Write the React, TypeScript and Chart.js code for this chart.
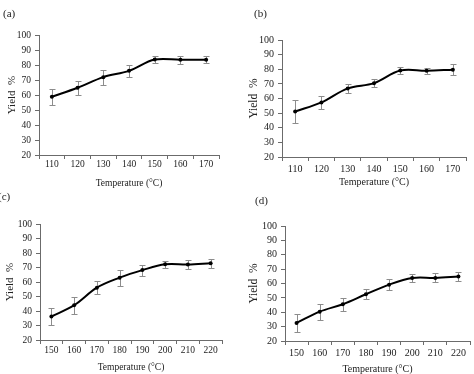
import React, { useEffect, useRef } from "react";
import { Chart, registerables } from "chart.js";

Chart.register(...registerables);

// ---- Data ----
const tempsAB = ["110", "120", "130", "140", "150", "160", "170"];
const tempsCD = ["150", "160", "170", "180", "190", "200", "210", "220"];

const yieldA = [58.8, 64.8, 71.9, 76.1, 83.6, 83.5, 83.5];
const errA = [5.3, 4.8, 5.0, 4.2, 2.1, 2.8, 2.2];

const yieldB = [51.1, 57.3, 66.9, 70.5, 79.1, 79.0, 79.7];
const errB = [7.7, 4.7, 2.9, 2.9, 2.3, 2.1, 3.6];

const yieldC = [36.2, 44.0, 56.1, 63.0, 68.2, 72.2, 72.1, 73.0];
const errC = [6.0, 6.0, 4.5, 5.5, 3.8, 2.5, 3.3, 3.0];

const yieldD = [32.6, 40.4, 45.6, 52.5, 59.2, 63.8, 63.9, 64.9];
const errD = [6.0, 5.6, 4.5, 3.5, 3.7, 2.5, 3.1, 2.9];

const yMin = 20;
const yMax = 100;
const yStep = 10;

const xTitle = "Temperature (\u00B0C)";
const yTitle = "Yield  %";
const panelLabels = ["(a)", "(b)", "(c)", "(d)"];

const FONT = "'Liberation Serif', 'Times New Roman', serif";

const errorBars = {
  id: "errorBars",
  beforeDatasetsDraw(chart: any) {
    const { ctx } = chart;
    const ys = chart.scales.y;
    chart.data.datasets.forEach((ds: any, i: number) => {
      const meta = chart.getDatasetMeta(i);
      const errs: number[] = ds.errors || [];
      meta.data.forEach((pt: any, j: number) => {
        const v = ds.data[j];
        const e = errs[j];
        if (e == null) return;
        const top = Math.round(ys.getPixelForValue(v + e)) + 0.5;
        const bot = Math.round(ys.getPixelForValue(v - e)) + 0.5;
        const x = Math.round(pt.x) + 0.5;
        ctx.save();
        ctx.strokeStyle = "#8c8c8c";
        ctx.lineWidth = 1;
        ctx.beginPath();
        ctx.moveTo(x, top);
        ctx.lineTo(x, bot);
        ctx.moveTo(x - 3, top);
        ctx.lineTo(x + 3, top);
        ctx.moveTo(x - 3, bot);
        ctx.lineTo(x + 3, bot);
        ctx.stroke();
        ctx.restore();
      });
    });
  },
};

type PanelProps = {
  left: number;
  top: number;
  w: number;
  h: number;
  L: number;
  T: number;
  R: number;
  B: number;
  labels: string[];
  values: number[];
  errors: number[];
  fs: number;
  tickPad: number;
  yTitleX: number;
  xTitleY: number;
};

function Panel(p: PanelProps) {
  const ref = useRef<HTMLCanvasElement>(null);
  useEffect(() => {
    if (!ref.current) return;
    const lh = p.fs * 1.2;
    const yfs = p.fs + 1.5;
    const ylh = yfs * 1.2;
    const axisColor = "#6b6b6b";
    const chart = new Chart(ref.current, {
      type: "line",
      data: {
        labels: p.labels,
        datasets: [
          {
            data: p.values,
            errors: p.errors,
            borderColor: "#000",
            backgroundColor: "#000",
            borderWidth: 2,
            tension: 0.35,
            pointRadius: 2,
            pointBorderWidth: 0,
            pointBackgroundColor: "#000",
          } as any,
        ],
      },
      options: {
        responsive: false,
        animation: false,
        events: [],
        layout: {
          padding: { left: 0, top: p.T, right: p.w - p.R, bottom: 0 },
        },
        plugins: {
          legend: { display: false },
          tooltip: { enabled: false },
        },
        scales: {
          x: {
            type: "category",
            offset: true,
            grid: {
              offset: true,
              drawOnChartArea: false,
              drawTicks: true,
              tickLength: 4,
              color: axisColor,
            },
            border: { display: true, color: axisColor, width: 1 },
            ticks: {
              color: "#222",
              font: { family: FONT, size: p.fs },
              padding: p.tickPad,
              maxRotation: 0,
              autoSkip: false,
            },
            title: {
              display: true,
              text: xTitle,
              color: "#222",
              font: { family: FONT, size: p.fs },
              padding: { top: 0, bottom: p.h - p.xTitleY - lh / 2 },
            },
            afterFit: (s: any) => {
              s.height = p.h - p.B;
            },
          },
          y: {
            min: yMin,
            max: yMax,
            grid: {
              drawOnChartArea: false,
              drawTicks: true,
              tickLength: 4,
              color: axisColor,
            },
            border: { display: true, color: axisColor, width: 1 },
            ticks: {
              stepSize: yStep,
              autoSkip: false,
              color: "#222",
              font: { family: FONT, size: p.fs },
              padding: 4,
            },
            title: {
              display: true,
              text: yTitle,
              color: "#222",
              font: { family: FONT, size: yfs },
              padding: { top: p.yTitleX - ylh / 2, bottom: 0 },
            },
            afterFit: (s: any) => {
              s.width = p.L;
            },
          },
        },
      },
      plugins: [errorBars],
    } as any);
    return () => chart.destroy();
  }, []);
  return (
    <canvas
      ref={ref}
      width={p.w}
      height={p.h}
      style={{ position: "absolute", left: p.left, top: p.top, width: p.w, height: p.h }}
    />
  );
}

const labelStyle: React.CSSProperties = {
  position: "absolute",
  fontFamily: FONT,
  fontSize: 11,
  color: "#222",
  lineHeight: "12px",
};

export default function App() {
  return (
    <div
      style={{
        position: "fixed",
        left: 0,
        top: 0,
        width: 474,
        height: 374,
        background: "#fff",
        overflow: "hidden",
      }}
    >
      <Panel left={0} top={0} w={237} h={192} L={39} T={35} R={219} B={155}
        labels={tempsAB} values={yieldA} errors={errA} fs={9.5} tickPad={0} yTitleX={12} xTitleY={183} />
      <Panel left={237} top={0} w={237} h={192} L={45} T={40} R={229} B={157}
        labels={tempsAB} values={yieldB} errors={errB} fs={10} tickPad={2} yTitleX={17} xTitleY={182} />
      <Panel left={0} top={185} w={237} h={189} L={40} T={39} R={222} B={155}
        labels={tempsCD} values={yieldC} errors={errC} fs={9.5} tickPad={1} yTitleX={10} xTitleY={182} />
      <Panel left={237} top={185} w={237} h={189} L={48} T={41} R={233} B={156}
        labels={tempsCD} values={yieldD} errors={errD} fs={10} tickPad={2} yTitleX={17} xTitleY={184} />
      <div style={{ ...labelStyle, left: 3, top: 7 }}>{panelLabels[0]}</div>
      <div style={{ ...labelStyle, left: 254, top: 7 }}>{panelLabels[1]}</div>
      <div style={{ ...labelStyle, left: -2, top: 190 }}>{panelLabels[2]}</div>
      <div style={{ ...labelStyle, left: 255, top: 194 }}>{panelLabels[3]}</div>
    </div>
  );
}
